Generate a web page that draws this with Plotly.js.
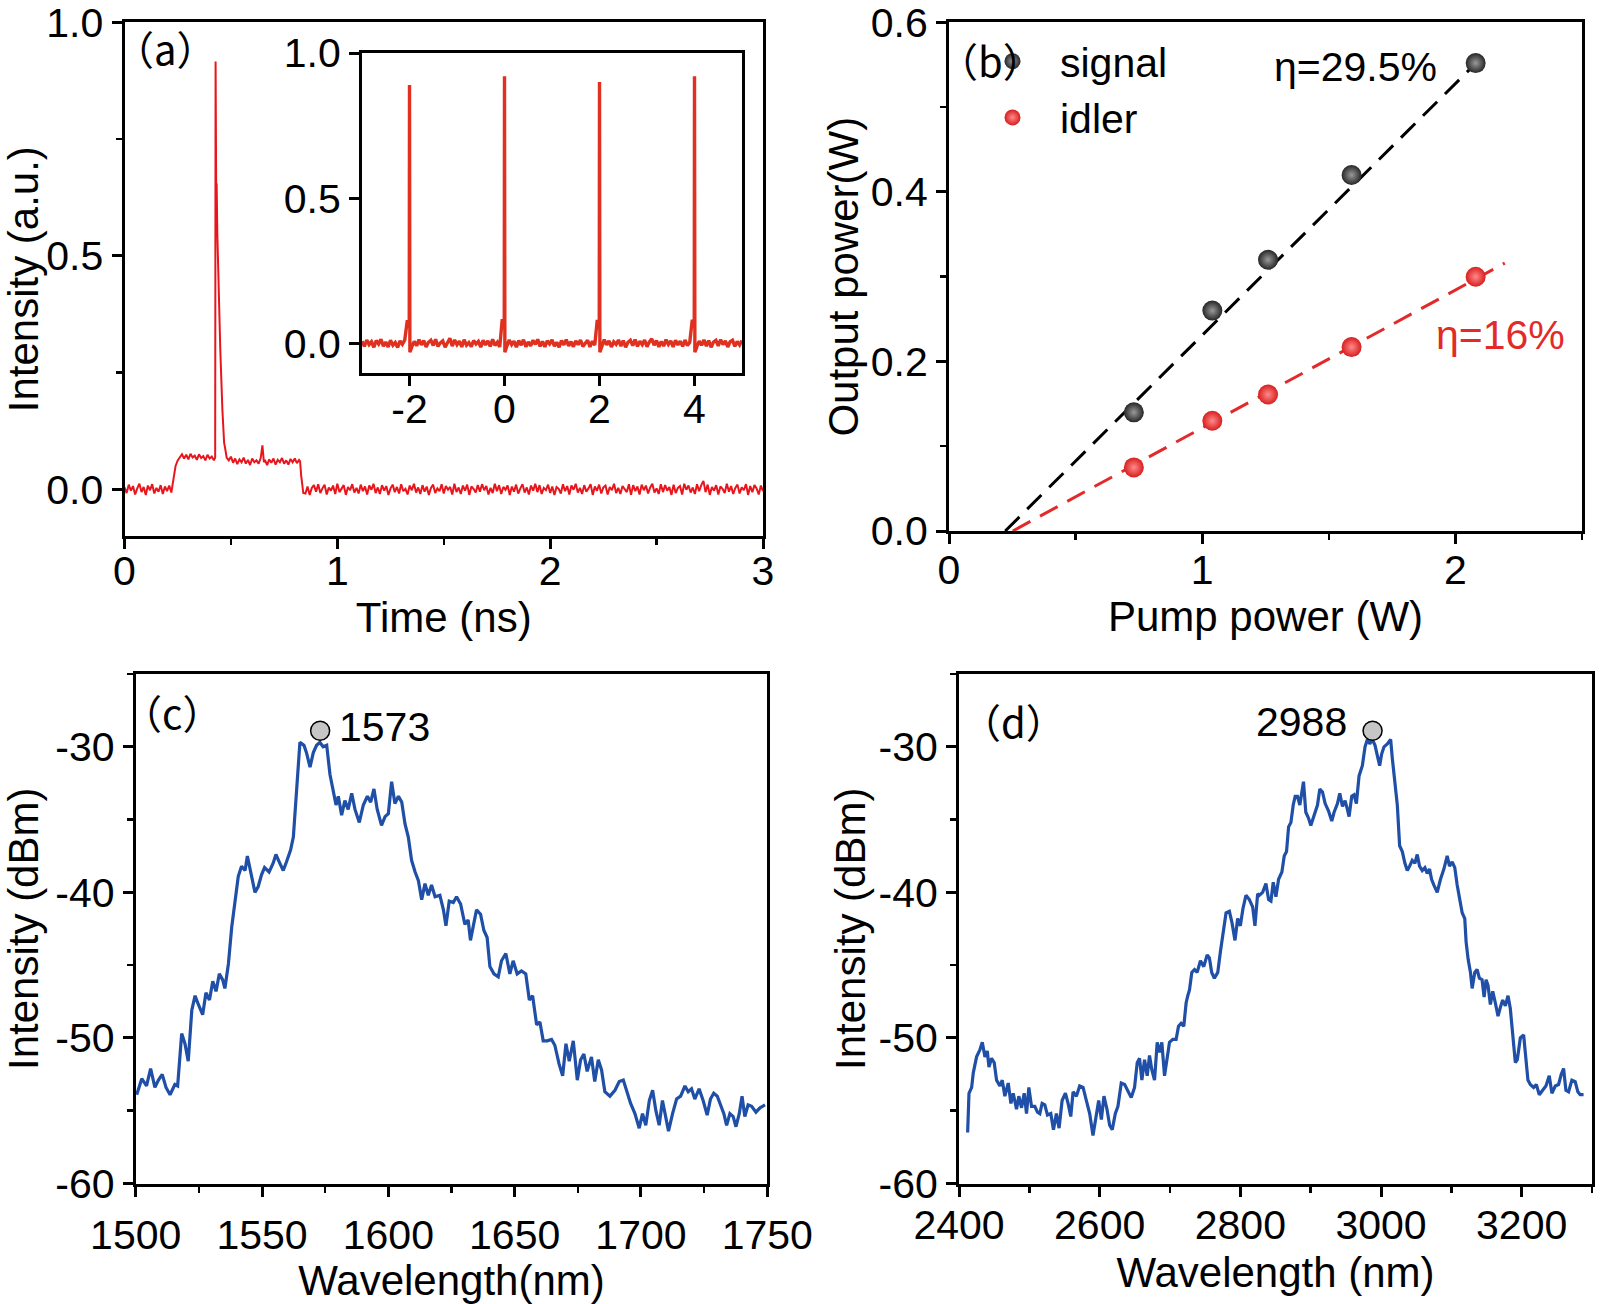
<!DOCTYPE html>
<html><head><meta charset="utf-8">
<script src="https://cdn.plot.ly/plotly-3.0.1.min.js"></script>
<style>html,body{margin:0;padding:0;background:#fff;} #chart{width:1600px;height:1304px;}</style>
</head><body><div id="chart"></div>
<script>
// ---------- (a) main oscilloscope trace ----------
const preNoise = [0.004,-0.008,0.010,-0.003,0.007,-0.011,0.002,0.012,-0.006,0.005,-0.012,0.008,-0.002,0.011,-0.009,0.003,-0.005,0.009,-0.010,0.006,-0.004,0.008,-0.007];
const pulseTime = [0.23,0.24,0.25,0.26,0.27,0.28,0.29,0.30,0.31,0.32,0.33,0.34,0.35,0.36,0.37,0.38,0.39,0.40,0.41,0.42,0.426,0.428,0.431,0.433,0.436,0.44,0.45,0.46,0.468,0.475,0.48,0.49,0.50,0.51,0.52,0.53,0.54,0.55,0.56,0.57,0.58,0.59,0.60,0.61,0.62,0.63,0.64,0.648,0.655,0.66,0.67,0.68,0.69,0.70,0.71,0.72,0.73,0.74,0.75,0.76,0.77,0.78,0.79,0.80,0.81,0.82,0.825,0.83,0.835,0.84];
const pulseVal = [0.02,0.05,0.062,0.068,0.075,0.066,0.074,0.064,0.076,0.068,0.072,0.063,0.075,0.067,0.071,0.062,0.074,0.066,0.07,0.062,0.068,0.916,0.62,0.655,0.55,0.46,0.30,0.17,0.10,0.082,0.068,0.062,0.07,0.057,0.066,0.054,0.064,0.058,0.068,0.055,0.063,0.052,0.066,0.058,0.062,0.055,0.067,0.094,0.058,0.063,0.052,0.064,0.057,0.066,0.053,0.063,0.058,0.067,0.055,0.062,0.053,0.065,0.058,0.066,0.056,0.063,0.06,0.03,0.005,-0.008];
const postNoise = [
-0.009,0.006,-0.012,0.003,0.009,-0.005,0.011,-0.008,0.002,0.010,-0.011,0.004,
-0.003,0.008,-0.010,0.012,-0.006,0.001,0.009,-0.012,0.005,-0.002,0.011,-0.007,
0.003,-0.009,0.010,-0.004,0.006,-0.011,0.008,-0.001,0.012,-0.008,0.004,-0.010,
0.009,-0.003,0.007,-0.012,0.002,0.010,-0.006,0.005,-0.009,0.011,-0.004,0.001,
-0.011,0.008,-0.002,0.012,-0.007,0.004,-0.010,0.009,-0.005,0.006,-0.012,0.003,
0.010,-0.008,0.002,-0.004,0.011,-0.009,0.007,-0.001,0.005,-0.011,0.012,-0.006,
0.004,-0.010,0.008,-0.003,0.010,-0.012,0.006,0.001,-0.007,0.009,-0.005,0.011,
-0.002,0.007,-0.011,0.003,-0.008,0.012,-0.004,0.009,-0.010,0.005,-0.001,0.008,
-0.012,0.006,-0.005,0.010,-0.009,0.002,0.011,-0.007,0.004,-0.011,0.008,-0.003,
0.012,-0.006,0.009,-0.010,0.003,-0.002,0.010,-0.008,0.006,-0.012,0.005,0.001,
-0.009,0.011,-0.004,0.007,-0.011,0.008,-0.001,0.012,-0.007,0.003,-0.010,0.009,
-0.005,0.002,0.011,-0.012,0.006,-0.003,0.010,-0.009,0.004,0.008,-0.011,0.005,
-0.002,0.012,-0.008,0.003,-0.010,0.007,0.001,-0.006,0.011,-0.012,0.009,-0.004,
0.006,-0.011,0.010,-0.002,0.008,-0.009,0.004,0.012,-0.007,0.002,-0.010,0.011,
-0.006,0.009,-0.003,0.005,-0.012,0.010,-0.008,0.003,0.007,-0.011,0.012,-0.001,
0.008,-0.007,0.004,-0.010,0.011,-0.004,0.009,0.018,-0.006,0.010,-0.012,0.005,
-0.003,0.009,-0.011,0.006,0.001,-0.008,0.012,-0.005,0.007,-0.010,0.003,0.010,
-0.009,0.004,-0.002,0.011,-0.012,0.007,-0.006,0.009,0.002,-0.011,0.008,-0.004];

// ---------- (a) inset: pulse train ----------
const insetNoise = [
0.008,-0.010,0.012,-0.004,0.006,-0.013,0.010,-0.002,0.014,-0.009,
0.005,-0.012,0.011,-0.006,0.003,-0.014,0.009,-0.003,0.012,0.075,
0.89,-0.011,0.007,-0.008,0.013,-0.005,0.010,-0.012,0.004,0.011,
-0.007,0.014,-0.010,0.002,0.009,-0.013,0.006,0.018,-0.009,0.012,
-0.004,0.008,-0.012,0.013,-0.006,0.003,-0.011,0.010,-0.002,0.007,
-0.013,0.011,-0.005,0.009,-0.010,0.014,-0.007,0.004,-0.012,0.078,
0.92,-0.009,0.012,-0.004,0.008,-0.013,0.010,-0.006,0.013,-0.011,
0.005,-0.008,0.011,-0.003,0.014,-0.010,0.007,-0.012,0.009,-0.002,
0.012,-0.009,0.004,-0.013,0.010,-0.005,0.013,-0.008,0.006,-0.011,
0.009,-0.004,0.012,-0.010,0.003,0.011,-0.012,0.008,-0.006,0.076,
0.90,-0.010,0.013,-0.005,0.009,-0.012,0.006,-0.003,0.012,-0.009,
0.010,-0.013,0.004,0.011,-0.007,0.013,-0.010,0.008,-0.004,0.012,
-0.011,0.005,0.016,-0.006,0.010,-0.012,0.007,-0.009,0.013,-0.003,
0.009,-0.012,0.011,-0.005,0.008,-0.010,0.012,-0.007,0.004,0.077,
0.92,-0.011,0.008,-0.006,0.012,-0.009,0.010,-0.013,0.005,0.011,
-0.008,0.013,-0.004,0.009,-0.012,0.006,0.011,-0.010,0.007,-0.005,0.010];
const insetExtraT = [-2.005,-1.992,-0.005,0.008,1.995,2.008,3.995,4.008];
const insetExtraV = [0.075,-0.03,0.078,-0.03,0.076,-0.03,0.077,-0.03];

// ---------- (b) output power ----------
const pumpPower = [0.73,1.04,1.26,1.59,2.08];
const signalPower = [0.14,0.26,0.32,0.42,0.552];
const idlerPower = [0.075,0.13,0.161,0.217,0.30];
const signalFitX = [0.222,2.105];
const signalFitY = [0,0.559];
const idlerFitX = [0.252,2.195];
const idlerFitY = [0,0.316];

// ---------- (c) signal spectrum ----------
const cWave = [1500.4,1502.4,1504.3,1505.9,1507.6,1509,1510.5,1512,1513.6,1515.5,
1516.6,1518.2,1519.5,1520.8,1522.2,1523.5,1524.8,1526.5,1527.8,1529.2,
1530.5,1531.8,1533.1,1534.4,1535.3,1536.7,1538,1539.4,1540.6,1541.9,
1543.3,1544.2,1545.5,1547.2,1548.5,1549.8,1551,1552.8,1554.4,1555.5,
1556.8,1558.4,1559.7,1561.3,1562.4,1563.7,1565,1566.6,1567.6,1569,
1570.3,1571.6,1572.9,1574.2,1575.6,1576.9,1578.2,1579.3,1580.2,1581.5,
1582.8,1584.1,1585.5,1586.8,1588.5,1590.1,1591.7,1593,1594.3,1595.6,
1597.3,1598.7,1600,1601.3,1602.6,1604,1605.3,1606.6,1607.9,1609.2,
1610.6,1611.9,1613.2,1614.5,1615.8,1617.1,1618.5,1620.4,1621.8,
1622.8,1624.1,1625.7,1627,1628.6,1630.3,1631.6,1632.5,1633.6,1634.9,
1636.5,1637.8,1639.1,1640.2,1641.8,1643.5,1644.8,1646.5,1648.1,1649.4,
1651,1652.7,1654.4,1655.8,1657.1,1658.7,1660,1661.3,1662.9,1664.6,
1665.9,1667.6,1669,1670.3,1671.6,1673.2,1674.8,1676.1,1677.4,1678.7,
1680.4,1681.7,1683.1,1684.4,1685.7,1687.7,1689.7,1691.4,1693,1694.3,
1695.9,1697.6,1699.3,1700.6,1701.9,1703.3,1704.6,1705.9,1707.2,1708.5,
1709.8,1710.9,1712.5,1714.1,1715.7,1717.4,1718.7,1720,1721.3,1723,
1724.6,1726.2,1727.5,1728.8,1730.2,1731.5,1732.8,1733.9,1735.2,1736.5,
1737.6,1738.9,1740,1741.1,1742.4,1743.8,1745.5,1747.1,1749.1];
const cPower = [-53.9,-52.8,-53.3,-52.1,-53.4,-52.9,-52.5,-53.4,-53.9,-53.2,
-53.3,-49.7,-50.4,-51.6,-48.1,-47.1,-47.7,-48.4,-46.9,-47.4,
-46.1,-46.8,-45.6,-46.0,-46.6,-44.9,-42.4,-40.5,-38.9,-38.2,
-38.5,-37.5,-38.7,-40.0,-39.6,-38.8,-38.3,-38.6,-38.0,-37.4,
-37.9,-38.5,-37.9,-37.1,-36.2,-33.0,-29.7,-29.9,-30.4,-31.4,
-30.4,-29.9,-29.7,-30.0,-29.9,-31.9,-33.2,-34.0,-33.4,-34.7,
-33.7,-34.3,-33.2,-34.3,-35.2,-34.0,-33.4,-33.8,-32.9,-34.3,
-35.4,-34.8,-34.6,-32.4,-33.9,-33.4,-33.8,-35.3,-36.2,-37.8,
-38.6,-39.2,-40.5,-39.4,-40.2,-39.5,-40.3,-40.2,-41.2,
-42.3,-40.6,-40.7,-40.3,-40.8,-42.2,-41.9,-43.3,-42.2,-41.2,
-41.5,-42.6,-43.1,-45.1,-45.6,-45.8,-44.7,-44.2,-45.6,-44.7,
-45.6,-45.4,-45.6,-47.4,-47.1,-49.1,-48.9,-50.2,-50.2,-50.1,
-50.5,-51.8,-52.6,-50.4,-51.6,-50.2,-52.9,-51.5,-51.1,-52.3,
-51.3,-53.0,-51.5,-52.2,-53.7,-54.0,-53.6,-53.0,-52.9,-53.7,
-54.5,-55.2,-56.2,-55.2,-56.0,-54.3,-53.6,-55.0,-56.0,-54.3,
-55.6,-56.4,-55.2,-54.2,-54.0,-53.3,-53.7,-53.5,-54.2,-53.5,
-54.3,-55.3,-54.2,-53.8,-54.0,-54.6,-55.2,-56.0,-55.2,-55.4,
-56.1,-55.2,-54.0,-55.4,-54.6,-54.7,-55.1,-54.8,-54.6];
const cPeakX = [1573];
const cPeakY = [-28.9];

// ---------- (d) idler spectrum ----------
const dWave = [2412.3,2414.2,2418,2420.3,2425,2429.8,2433.1,2436.9,2440.2,2442.6,
2446.3,2450.1,2453.4,2458.2,2461.5,2465.2,2470,2473.8,2477.1,2481.8,
2485.1,2488.9,2492.7,2496,2499.3,2503.1,2507.8,2511.6,2514.9,2518.2,
2522,2525.8,2530.5,2534.3,2538.5,2542.3,2546.6,2551.3,2555.1,2558.9,
2562.2,2566.9,2571.6,2576.4,2581.1,2585.8,2590.5,2595.3,2598.6,2602.4,
2606.1,2610.4,2614.2,2617.9,2622.2,2626,2630.7,2635.5,2640.2,2644.9,
2649.6,2653.4,2656.7,2660,2663.8,2667.6,2670.9,2674.2,2678,2681.8,
2685.1,2688.4,2692.2,2696,2699.3,2704,2708.7,2712.1,2715.8,2719.6,
2722.9,2725.3,2727.7,2731,2734.8,2738.6,2743.3,2748,2752.8,2756,
2759.3,2763.1,2767.9,2771.6,2775,2779.7,2784.4,2788.2,2792.4,2796.2,
2800,2803.8,2808,2812.8,2817.5,2820.8,2824.6,
2827,2831.7,2836.4,2840.2,2843.5,2846.8,2850.6,2854.4,2859.1,2862.4,
2865.7,2868.6,2871.9,2875.2,2878,2881.3,2884.6,2887.5,2889.8,2893.1,
2896.9,2900.2,2904.9,2909.7,2913,2916.8,2920.6,2925.3,2930,2933.3,
2938.1,2941.4,2945.2,2948.9,2952.2,2954.6,2958.4,2961.7,2965,2968.8,
2973.5,2977.3,2980.6,2983.9,2987.7,2991.5,2994.8,2998.1,3000.9,3004.3,
3009,3013.7,3016.1,3019.9,3023.2,3026.5,3030.3,3034,3037.4,3040.7,
3044.4,3048.2,3051.5,3054.8,3058.6,3062.4,3065.7,3069,3071.9,3075.2,
3079.9,3084.6,3089.4,3094.1,3097.4,3101.2,3104.9,3108.3,3111.6,3115.4,
3119.1,3121,3123.9,3127.2,3129.6,3133.3,3136.6,3139.9,3143.7,3146.6,
3149.4,3152.2,3155.5,3158.9,3162.6,3166.4,3169.7,3173,3176.8,3180.6,
3183.9,3187.2,3191,3193.8,3198.1,3202.8,3206.1,3208.9,3212.3,3217,
3220.8,3225.1,3229.8,3234.5,3239.2,3243,3247.8,3252.5,3256.3,3259.6,
3262.9,3266.7,3271.4,3276.1,3279.9,3283.2,3288];
const dPower = [-56.5,-53.8,-53.4,-52.4,-51.3,-50.8,-50.3,-51.3,-50.9,-52.0,
-51.4,-51.7,-52.9,-53.3,-52.9,-54.0,-53.1,-54.5,-53.8,-54.9,
-54.0,-54.8,-53.8,-55.2,-53.4,-54.7,-54.7,-55.1,-55.2,-54.5,
-54.6,-55.3,-55.2,-56.3,-55.2,-56.2,-54.3,-53.8,-54.5,-55.4,
-53.7,-54.0,-53.3,-53.4,-54.3,-55.2,-56.7,-55.2,-54.3,-55.6,
-54.0,-54.9,-56.0,-56.3,-55.2,-54.7,-53.1,-53.2,-53.7,-54.1,
-53.4,-51.7,-51.4,-52.9,-51.5,-52.6,-51.2,-52.2,-52.9,-50.3,
-51.0,-50.3,-52.6,-51.2,-50.3,-50.1,-50.1,-49.2,-49.0,-49.2,
-47.6,-47.1,-46.7,-45.5,-45.3,-45.5,-44.7,-45.1,-44.3,-44.5,
-45.5,-45.9,-45.5,-44.1,-42.8,-41.4,-41.3,-42.1,-43.3,-41.8,
-42.3,-41.1,-40.2,-40.5,-41.0,-42.3,-40.1,
-40.2,-40.0,-39.4,-40.5,-40.6,-39.3,-40.3,-39.1,-38.6,-37.5,
-37.2,-35.5,-35.2,-34.0,-33.4,-33.4,-34.0,-33.1,-32.4,-34.5,
-34.9,-35.4,-34.7,-34.0,-32.9,-33.1,-33.9,-34.4,-35.1,-34.5,
-33.9,-33.2,-34.1,-33.7,-34.3,-34.8,-33.4,-33.3,-33.9,-32.0,
-31.3,-30.0,-29.5,-29.8,-29.5,-29.9,-30.6,-31.3,-30.5,-30.0,
-29.8,-29.5,-30.8,-32.6,-34.0,-36.8,-37.2,-38.0,-38.5,-38.2,
-37.8,-38.0,-37.4,-38.2,-38.5,-38.3,-38.7,-38.4,-39.1,-39.5,
-40.0,-39.1,-38.4,-37.5,-38.2,-37.9,-38.3,-39.5,-40.5,-41.4,
-41.8,-43.4,-44.6,-45.5,-46.6,-45.5,-45.3,-45.9,-46.0,-47.2,
-46.0,-46.4,-47.7,-46.8,-47.6,-48.5,-47.9,-47.4,-47.8,-47.1,
-48.0,-49.7,-51.7,-51.5,-50.0,-49.8,-51.3,-52.9,-53.2,-53.4,
-53.2,-53.9,-53.6,-53.3,-52.6,-53.8,-53.3,-53.2,-52.5,-52.1,
-53.6,-53.7,-52.9,-53.0,-53.7,-53.9,-53.9];
const dPeakX = [2988];
const dPeakY = [-28.9];

// ---------- tick labels ----------
const dbTickVals = [-60,-50,-40,-30];
const dbTickText = ['-60','-50','-40','-30'];
const insetTickVals = [-2,0,2,4];
const insetTickText = ['-2','0','2','4'];

// ---------- build series ----------
const mainT = [], mainV = [];
preNoise.forEach((v,i)=>{ mainT.push(+(i*0.01).toFixed(3)); mainV.push(v); });
pulseTime.forEach((t,i)=>{ mainT.push(t); mainV.push(pulseVal[i]); });
postNoise.forEach((v,i)=>{ mainT.push(+(0.85+i*0.01).toFixed(3)); mainV.push(v); });

let insetPts = insetNoise.map((v,i)=>[+(-3+i*0.05).toFixed(3), v]);
insetExtraT.forEach((t,i)=>insetPts.push([t, insetExtraV[i]]));
insetPts.sort((a,b)=>a[0]-b[0]);
const insetT = insetPts.map(p=>p[0]), insetV = insetPts.map(p=>p[1]);

const FONT = "'Liberation Sans', Arial, Helvetica, sans-serif";
const W = 1600, H = 1304;
const px = x => x / W;
const py = y => 1 - y / H;
const TICK = 41, TITLE = 42;

function axis(extra){
  return Object.assign({
    showline:true, linecolor:'#000', linewidth:3, mirror:true,
    ticks:'outside', ticklen:10, tickwidth:3, tickcolor:'#000',
    showgrid:false, zeroline:false, automargin:false, fixedrange:true,
    ticklabeloverflow:'allow',
    tickfont:{family:FONT, size:TICK, color:'#000'}
  }, extra);
}
function minor(d, t0){
  return {ticks:'outside', ticklen:6, tickwidth:2.5, tickcolor:'#000', dtick:d, tick0:t0, showgrid:false};
}
function ttl(text, standoff){
  return {text:text, font:{family:FONT, size:TITLE, color:'#000'}, standoff:standoff};
}

const traces = [
  {x:mainT, y:mainV, xaxis:'x', yaxis:'y', type:'scatter', mode:'lines',
   line:{color:'#e8161c', width:2}, showlegend:false, name:'pulse'},
  {x:insetT, y:insetV, xaxis:'x2', yaxis:'y2', type:'scatter', mode:'lines',
   line:{color:'#e0301f', width:3.4}, showlegend:false, name:'pulse train'},
  {x:signalFitX, y:signalFitY, xaxis:'x3', yaxis:'y3', type:'scatter', mode:'lines',
   line:{color:'#000', width:3, dash:'20px,11px'}, showlegend:false, name:'signal fit'},
  {x:idlerFitX, y:idlerFitY, xaxis:'x3', yaxis:'y3', type:'scatter', mode:'lines',
   line:{color:'#e32a2a', width:3, dash:'20px,11px'}, showlegend:false, name:'idler fit'},
  {x:pumpPower, y:signalPower, xaxis:'x3', yaxis:'y3', type:'scatter', mode:'markers', name:'signal',
   marker:{size:20, color:'#262626', gradient:{type:'radial', color:'#9a9a9a'}, line:{width:0}}},
  {x:pumpPower, y:idlerPower, xaxis:'x3', yaxis:'y3', type:'scatter', mode:'markers', name:'idler',
   marker:{size:20, color:'#d81e1e', gradient:{type:'radial', color:'#ff8a8a'}, line:{width:0}}},
  {x:cWave, y:cPower, xaxis:'x4', yaxis:'y4', type:'scatter', mode:'lines',
   line:{color:'#1f4fa6', width:3.2}, showlegend:false, name:'signal spectrum'},
  {x:cPeakX, y:cPeakY, xaxis:'x4', yaxis:'y4', type:'scatter', mode:'markers',
   marker:{size:19, color:'#c6c6c6', line:{color:'#000', width:1.5}}, showlegend:false, name:'signal peak'},
  {x:dWave, y:dPower, xaxis:'x5', yaxis:'y5', type:'scatter', mode:'lines',
   line:{color:'#1f4fa6', width:3.2}, showlegend:false, name:'idler spectrum'},
  {x:dPeakX, y:dPeakY, xaxis:'x5', yaxis:'y5', type:'scatter', mode:'markers',
   marker:{size:19, color:'#c6c6c6', line:{color:'#000', width:1.5}}, showlegend:false, name:'idler peak'}
];

const annFont = (size, color, fam) => ({family:fam||FONT, size:size, color:color||'#000'});
const ann = (text, x, y, font) => ({text:text, xref:'paper', yref:'paper', x:px(x), y:py(y),
  xanchor:'center', yanchor:'middle', showarrow:false, font:font});

const layout = {
  width:W, height:H, margin:{l:0, r:0, t:0, b:0},
  paper_bgcolor:'#fff', plot_bgcolor:'rgba(0,0,0,0)',
  font:{family:FONT, color:'#000'},
  showlegend:true,
  legend:{x:px(965), y:py(28), xanchor:'left', yanchor:'top', bgcolor:'rgba(0,0,0,0)',
          font:{family:FONT, size:41, color:'#000'}, itemwidth:85, tracegroupgap:0},
  xaxis: axis({domain:[px(124.5), px(763)], range:[0,3], anchor:'y', dtick:1, tick0:0,
               ticklabelstandoff:-13, minor:minor(0.5,0), title:ttl('Time (ns)', 10)}),
  yaxis: axis({domain:[py(536), py(22.4)], range:[-0.1,1.0], anchor:'x', dtick:0.5, tick0:0, tickformat:'.1f',
               minor:minor(0.25,0), title:ttl('Intensity (a.u.)', 9)}),
  xaxis2: axis({domain:[px(362), px(742)], range:[-3,5], anchor:'y2', tickmode:'array',
                tickvals:insetTickVals, ticktext:insetTickText, ticklabelstandoff:-12}),
  yaxis2: axis({domain:[py(372.5), py(53)], range:[-0.1,1.0], anchor:'x2', dtick:0.5, tick0:0, tickformat:'.1f'}),
  xaxis3: axis({domain:[px(949), px(1582)], range:[0,2.5], anchor:'y3', dtick:1, tick0:0,
                ticklabelstandoff:-9, minor:minor(0.5,0), title:ttl('Pump power (W)', 2)}),
  yaxis3: axis({domain:[py(531), py(22.4)], range:[0,0.6], anchor:'x3', dtick:0.2, tick0:0, tickformat:'.1f',
                minor:minor(0.1,0), title:ttl('Output power(W)', 0)}),
  xaxis4: axis({domain:[px(135.7), px(767.3)], range:[1500,1750], anchor:'y4', dtick:50, tick0:1500,
                minor:minor(25,1500), title:ttl('Wavelength(nm)', 0), ticklabelstandoff:3}),
  yaxis4: axis({domain:[py(1183.5), py(674)], range:[-60,-25], anchor:'x4', tickmode:'array',
                tickvals:dbTickVals, ticktext:dbTickText, minor:minor(5,0), title:ttl('Intensity (dBm)', 6)}),
  xaxis5: axis({domain:[px(959), px(1592)], range:[2400,3300], anchor:'y5', dtick:200, tick0:2400,
                ticklabelstandoff:-7, minor:minor(100,2400), title:ttl('Wavelength (nm)', 11)}),
  yaxis5: axis({domain:[py(1183.5), py(674)], range:[-60,-25], anchor:'x5', tickmode:'array',
                tickvals:dbTickVals, ticktext:dbTickText, minor:minor(5,0), title:ttl('Intensity (dBm)', 0)}),
  annotations: [
    ann('（a）', 165, 48, annFont(40, '#000', 'Noto Sans CJK SC')),
    ann('（b）', 990, 60, annFont(40, '#000', 'Noto Sans CJK SC')),
    ann('（c）', 172, 712, annFont(40, '#000', 'Noto Sans CJK SC')),
    ann('（d）', 1013, 721, annFont(40, '#000', 'Noto Sans CJK SC')),
    ann('η=29.5%', 1355, 67, annFont(41, '#000')),
    ann('η=16%', 1500, 335, annFont(41, '#e32a2a')),
    ann('1573', 384, 727, annFont(41, '#000')),
    ann('2988', 1301, 722, annFont(41, '#000'))
  ]
};

Plotly.newPlot('chart', traces, layout, {staticPlot:true, displayModeBar:false});
</script></body></html>
